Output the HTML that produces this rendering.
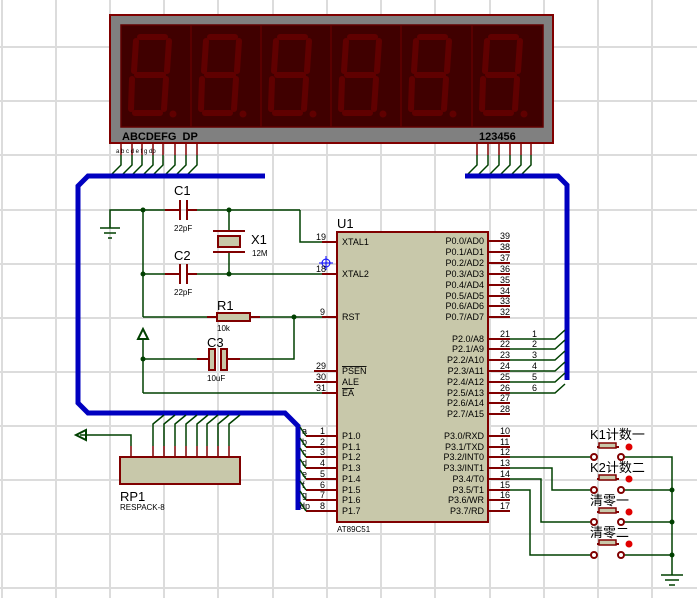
<!DOCTYPE html>
<html><head><meta charset="utf-8"><style>
body{margin:0;background:#fff}
svg{display:block}
text{font-family:"Liberation Sans","Noto Sans CJK SC",sans-serif}
</style></head><body>
<svg width="697" height="598" viewBox="0 0 697 598" xmlns="http://www.w3.org/2000/svg">
<g stroke="#dcdcdc" stroke-width="2">
<line x1="2" y1="0" x2="2" y2="598"/><line x1="56" y1="0" x2="56" y2="598"/><line x1="110" y1="0" x2="110" y2="598"/><line x1="164" y1="0" x2="164" y2="598"/><line x1="218" y1="0" x2="218" y2="598"/><line x1="273" y1="0" x2="273" y2="598"/><line x1="327" y1="0" x2="327" y2="598"/><line x1="381" y1="0" x2="381" y2="598"/><line x1="435" y1="0" x2="435" y2="598"/><line x1="490" y1="0" x2="490" y2="598"/><line x1="544" y1="0" x2="544" y2="598"/><line x1="598" y1="0" x2="598" y2="598"/><line x1="652" y1="0" x2="652" y2="598"/>
<line x1="0" y1="47" x2="697" y2="47"/><line x1="0" y1="101" x2="697" y2="101"/><line x1="0" y1="155" x2="697" y2="155"/><line x1="0" y1="210" x2="697" y2="210"/><line x1="0" y1="264" x2="697" y2="264"/><line x1="0" y1="318" x2="697" y2="318"/><line x1="0" y1="372" x2="697" y2="372"/><line x1="0" y1="426" x2="697" y2="426"/><line x1="0" y1="480" x2="697" y2="480"/><line x1="0" y1="534" x2="697" y2="534"/><line x1="0" y1="588" x2="697" y2="588"/>
</g>
<!-- display -->
<rect x="110" y="15" width="443" height="128" fill="#808080" stroke="#800000" stroke-width="2"/>
<rect x="121" y="25" width="422" height="102" fill="#400000" stroke="#600000" stroke-width="1.5"/>
<g stroke="#600000" stroke-width="1.5">
<line x1="191" y1="25" x2="191" y2="127"/><line x1="261" y1="25" x2="261" y2="127"/><line x1="331" y1="25" x2="331" y2="127"/><line x1="401" y1="25" x2="401" y2="127"/><line x1="472" y1="25" x2="472" y2="127"/>
</g>
<defs><g id="dg" stroke="#600000" stroke-width="6" stroke-linecap="round" fill="none">
<line x1="19" y1="12" x2="44" y2="12"/><line x1="48" y1="16" x2="46" y2="46"/><line x1="45" y1="54" x2="43" y2="84"/><line x1="14" y1="88" x2="39" y2="88"/><line x1="11" y1="54" x2="10" y2="84"/><line x1="15" y1="16" x2="13" y2="46"/><line x1="16" y1="50" x2="42" y2="50"/>
<circle cx="52" cy="89" r="3.5" fill="#600000" stroke="none"/></g></defs>
<use href="#dg" x="121" y="25"/><use href="#dg" x="191" y="25"/><use href="#dg" x="261" y="25"/><use href="#dg" x="331" y="25"/><use href="#dg" x="401" y="25"/><use href="#dg" x="472" y="25"/>
<text x="122" y="140" font-size="11" font-weight="bold" fill="#000" xml:space="preserve">ABCDEFG  DP</text>
<text x="479" y="140" font-size="11" font-weight="bold" fill="#000">123456</text>
<g stroke="#800000" stroke-width="1.5">
<line x1="121" y1="143" x2="121" y2="155"/><line x1="132" y1="143" x2="132" y2="155"/><line x1="142" y1="143" x2="142" y2="155"/><line x1="153" y1="143" x2="153" y2="155"/><line x1="163" y1="143" x2="163" y2="155"/><line x1="175" y1="143" x2="175" y2="155"/><line x1="186" y1="143" x2="186" y2="155"/><line x1="197" y1="143" x2="197" y2="155"/>
<line x1="477" y1="143" x2="477" y2="155"/><line x1="488" y1="143" x2="488" y2="155"/><line x1="499" y1="143" x2="499" y2="155"/><line x1="510" y1="143" x2="510" y2="155"/><line x1="521" y1="143" x2="521" y2="155"/><line x1="531" y1="143" x2="531" y2="155"/>
</g>
<g stroke="#004000" stroke-width="1.5" fill="none">
<polyline points="121,155 121,165 110,176"/><polyline points="132,155 132,165 121,176"/><polyline points="142,155 142,165 131,176"/><polyline points="153,155 153,165 142,176"/><polyline points="163,155 163,165 152,176"/><polyline points="175,155 175,165 164,176"/><polyline points="186,155 186,165 175,176"/><polyline points="197,155 197,165 186,176"/>
<polyline points="477,155 477,165 466,176"/><polyline points="488,155 488,165 477,176"/><polyline points="499,155 499,165 488,176"/><polyline points="510,155 510,165 499,176"/><polyline points="521,155 521,165 510,176"/><polyline points="531,155 531,165 520,176"/>
</g>
<g font-size="6" fill="#000">
<text x="116" y="153">a b c d e f g dp</text>
</g>
<!-- buses -->
<g stroke="#0000c0" stroke-width="5" fill="none">
<polyline points="265,176 88,176 78,186 78,403 88,413 285,413 298,426 298,510"/>
<polyline points="465,176 558,176 567,185 567,380"/>
</g>
<!-- crystal area wires -->
<g stroke="#004000" stroke-width="1.5" fill="none">
<polyline points="110,228 110,210 173,210"/><line x1="189" y1="210" x2="300" y2="210"/>
<polyline points="300,210 300,242 322,242"/>
<line x1="143" y1="210" x2="143" y2="317"/>
<line x1="143" y1="274" x2="173" y2="274"/><line x1="189" y1="274" x2="322" y2="274"/>
<line x1="229" y1="210" x2="229" y2="231"/><line x1="229" y1="252" x2="229" y2="274"/>
<line x1="143" y1="317" x2="217" y2="317"/><line x1="250" y1="317" x2="322" y2="317"/>
<polyline points="294,317 294,359 227,359"/><line x1="143" y1="359" x2="207" y2="359"/>
<line x1="143" y1="340" x2="143" y2="393"/>
<line x1="143" y1="393" x2="322" y2="393"/>
<line x1="100" y1="228" x2="120" y2="228"/><line x1="104" y1="233" x2="116" y2="233"/><line x1="108" y1="238" x2="112" y2="238"/>
</g>
<polygon points="143,329 138,339 148,339" fill="none" stroke="#004000" stroke-width="2"/>
<g fill="#004000"><circle cx="143" cy="210" r="2.5"/><circle cx="229" cy="210" r="2.5"/><circle cx="143" cy="274" r="2.5"/><circle cx="229" cy="274" r="2.5"/><circle cx="294" cy="317" r="2.5"/><circle cx="143" cy="359" r="2.5"/></g>
<g stroke="#800000" stroke-width="2">
<line x1="165" y1="210" x2="180" y2="210"/><line x1="187" y1="210" x2="197" y2="210"/>
<line x1="180" y1="200" x2="180" y2="220"/><line x1="187" y1="200" x2="187" y2="220"/>
<line x1="165" y1="274" x2="180" y2="274"/><line x1="187" y1="274" x2="197" y2="274"/>
<line x1="180" y1="264" x2="180" y2="284"/><line x1="187" y1="264" x2="187" y2="284"/>
<line x1="213" y1="231" x2="245" y2="231"/><line x1="213" y1="252" x2="245" y2="252"/>
<line x1="207" y1="317" x2="217" y2="317"/><line x1="250" y1="317" x2="260" y2="317"/>
<line x1="197" y1="359" x2="209" y2="359"/><line x1="224" y1="359" x2="240" y2="359"/>
</g>
<rect x="218" y="236" width="22" height="11" fill="#c8c8a8" stroke="#800000" stroke-width="2"/>
<rect x="217" y="313" width="33" height="8" fill="#c8c8a8" stroke="#800000" stroke-width="2"/>
<rect x="209" y="349" width="6" height="21" fill="#c8c8a8" stroke="#800000" stroke-width="2"/>
<rect x="221" y="349" width="6" height="21" fill="#c8c8a8" stroke="#800000" stroke-width="2"/>
<g fill="#000">
<text x="174" y="195" font-size="13">C1</text><text x="174" y="231" font-size="8">22pF</text>
<text x="174" y="260" font-size="13">C2</text><text x="174" y="295" font-size="8">22pF</text>
<text x="251" y="244" font-size="13">X1</text><text x="252" y="256" font-size="8">12M</text>
<text x="217" y="310" font-size="13">R1</text><text x="217" y="331" font-size="8">10k</text>
<text x="207" y="347" font-size="13">C3</text><text x="207" y="381" font-size="8">10uF</text>
</g>
<!-- crosshair -->
<g stroke="#0000ff" stroke-width="1" fill="none"><circle cx="326" cy="263" r="4"/><line x1="319" y1="263" x2="333" y2="263"/><line x1="326" y1="256" x2="326" y2="270"/></g>
<!-- U1 -->
<text x="337" y="228" font-size="13" fill="#000">U1</text>
<rect x="337" y="232" width="151" height="290" fill="#c8c8aa" stroke="#800000" stroke-width="2"/>
<g stroke="#800000" stroke-width="2">
<line x1="322" y1="242" x2="337" y2="242"/><line x1="322" y1="274" x2="337" y2="274"/><line x1="322" y1="317" x2="337" y2="317"/><line x1="314" y1="371" x2="337" y2="371"/><line x1="314" y1="382" x2="337" y2="382"/><line x1="322" y1="393" x2="337" y2="393"/>
<line x1="306" y1="436" x2="337" y2="436"/><line x1="306" y1="447" x2="337" y2="447"/><line x1="306" y1="457" x2="337" y2="457"/><line x1="306" y1="468" x2="337" y2="468"/><line x1="306" y1="479" x2="337" y2="479"/><line x1="306" y1="490" x2="337" y2="490"/><line x1="306" y1="500" x2="337" y2="500"/><line x1="306" y1="511" x2="337" y2="511"/>
<line x1="488" y1="241" x2="510" y2="241"/><line x1="488" y1="252" x2="510" y2="252"/><line x1="488" y1="263" x2="510" y2="263"/><line x1="488" y1="274" x2="510" y2="274"/><line x1="488" y1="285" x2="510" y2="285"/><line x1="488" y1="296" x2="510" y2="296"/><line x1="488" y1="306" x2="510" y2="306"/><line x1="488" y1="317" x2="510" y2="317"/>
<line x1="488" y1="339" x2="510" y2="339"/><line x1="488" y1="349" x2="510" y2="349"/><line x1="488" y1="360" x2="510" y2="360"/><line x1="488" y1="371" x2="510" y2="371"/><line x1="488" y1="382" x2="510" y2="382"/><line x1="488" y1="393" x2="510" y2="393"/><line x1="488" y1="403" x2="510" y2="403"/><line x1="488" y1="414" x2="510" y2="414"/>
<line x1="488" y1="436" x2="510" y2="436"/><line x1="488" y1="447" x2="510" y2="447"/><line x1="488" y1="457" x2="510" y2="457"/><line x1="488" y1="468" x2="510" y2="468"/><line x1="488" y1="479" x2="510" y2="479"/><line x1="488" y1="490" x2="510" y2="490"/><line x1="488" y1="500" x2="510" y2="500"/><line x1="488" y1="511" x2="510" y2="511"/>
</g>
<g font-size="9" fill="#000">
<text x="342" y="245">XTAL1</text><text x="342" y="277">XTAL2</text><text x="342" y="320">RST</text>
<text x="342" y="374" text-decoration="overline">PSEN</text><text x="342" y="385">ALE</text><text x="342" y="396" text-decoration="overline">EA</text>
<text x="342" y="439">P1.0</text><text x="342" y="450">P1.1</text><text x="342" y="460">P1.2</text><text x="342" y="471">P1.3</text><text x="342" y="482">P1.4</text><text x="342" y="493">P1.5</text><text x="342" y="503">P1.6</text><text x="342" y="514">P1.7</text>
<text x="337" y="532" font-size="8">AT89C51</text>
</g>
<g font-size="9" fill="#000" text-anchor="end">
<text x="484" y="244">P0.0/AD0</text><text x="484" y="255">P0.1/AD1</text><text x="484" y="266">P0.2/AD2</text><text x="484" y="277">P0.3/AD3</text><text x="484" y="288">P0.4/AD4</text><text x="484" y="299">P0.5/AD5</text><text x="484" y="309">P0.6/AD6</text><text x="484" y="320">P0.7/AD7</text>
<text x="484" y="342">P2.0/A8</text><text x="484" y="352">P2.1/A9</text><text x="484" y="363">P2.2/A10</text><text x="484" y="374">P2.3/A11</text><text x="484" y="385">P2.4/A12</text><text x="484" y="396">P2.5/A13</text><text x="484" y="406">P2.6/A14</text><text x="484" y="417">P2.7/A15</text>
<text x="484" y="439">P3.0/RXD</text><text x="484" y="450">P3.1/TXD</text><text x="484" y="460">P3.2/INT0</text><text x="484" y="471">P3.3/INT1</text><text x="484" y="482">P3.4/T0</text><text x="484" y="493">P3.5/T1</text><text x="484" y="503">P3.6/WR</text><text x="484" y="514">P3.7/RD</text>
</g>
<g font-size="9" fill="#000">
<text x="316" y="240">19</text><text x="316" y="272">18</text><text x="320" y="315">9</text><text x="316" y="369">29</text><text x="316" y="380">30</text><text x="316" y="391">31</text>
<text x="320" y="434">1</text><text x="320" y="445">2</text><text x="320" y="455">3</text><text x="320" y="466">4</text><text x="320" y="477">5</text><text x="320" y="488">6</text><text x="320" y="498">7</text><text x="320" y="509">8</text>
<text x="500" y="239">39</text><text x="500" y="250">38</text><text x="500" y="261">37</text><text x="500" y="272">36</text><text x="500" y="283">35</text><text x="500" y="294">34</text><text x="500" y="304">33</text><text x="500" y="315">32</text>
<text x="500" y="337">21</text><text x="500" y="347">22</text><text x="500" y="358">23</text><text x="500" y="369">24</text><text x="500" y="380">25</text><text x="500" y="391">26</text><text x="500" y="401">27</text><text x="500" y="412">28</text>
<text x="500" y="434">10</text><text x="500" y="445">11</text><text x="500" y="455">12</text><text x="500" y="466">13</text><text x="500" y="477">14</text><text x="500" y="488">15</text><text x="500" y="498">16</text><text x="500" y="509">17</text>
<text x="532" y="337">1</text><text x="532" y="347">2</text><text x="532" y="358">3</text><text x="532" y="369">4</text><text x="532" y="380">5</text><text x="532" y="391">6</text>
<text x="302" y="434">a</text><text x="302" y="445">b</text><text x="302" y="455">c</text><text x="302" y="466">d</text><text x="302" y="477">e</text><text x="302" y="488">f</text><text x="302" y="498">g</text><text x="300" y="509">dp</text>
</g>
<g stroke="#004000" stroke-width="1.5" fill="none">
<polyline points="510,339 555,339 565,330"/><polyline points="510,349 555,349 565,340"/><polyline points="510,360 555,360 565,351"/><polyline points="510,371 555,371 565,362"/><polyline points="510,382 555,382 565,373"/><polyline points="510,393 555,393 565,384"/>
<polyline points="300,427 306,436"/><polyline points="300,438 306,447"/><polyline points="300,448 306,457"/><polyline points="300,459 306,468"/><polyline points="300,470 306,479"/><polyline points="300,481 306,490"/><polyline points="300,491 306,500"/><polyline points="300,502 306,511"/>
<polyline points="131,446 131,435 80,435"/>
<polyline points="153,446 153,424 164,415"/><polyline points="164,446 164,424 175,415"/><polyline points="175,446 175,424 186,415"/><polyline points="186,446 186,424 197,415"/><polyline points="197,446 197,424 208,415"/><polyline points="207,446 207,424 218,415"/><polyline points="218,446 218,424 229,415"/><polyline points="229,446 229,424 240,415"/>
<polyline points="510,457 591,457"/><polyline points="624,457 672,457 672,575"/>
<polyline points="510,468 552,468 552,490 591,490"/><line x1="624" y1="490" x2="672" y2="490"/>
<polyline points="510,479 541,479 541,522 591,522"/><line x1="624" y1="522" x2="672" y2="522"/>
<polyline points="510,490 530,490 530,555 591,555"/><line x1="624" y1="555" x2="672" y2="555"/>
<line x1="661" y1="575" x2="683" y2="575"/><line x1="665" y1="580" x2="679" y2="580"/><line x1="669" y1="585" x2="675" y2="585"/>
</g>
<polygon points="76,435 86,430 86,440" fill="none" stroke="#004000" stroke-width="2"/>
<g fill="#004000"><circle cx="672" cy="490" r="2.5"/><circle cx="672" cy="522" r="2.5"/><circle cx="672" cy="555" r="2.5"/></g>
<g stroke="#800000" stroke-width="1.5">
<line x1="131" y1="446" x2="131" y2="457"/><line x1="153" y1="446" x2="153" y2="457"/><line x1="164" y1="446" x2="164" y2="457"/><line x1="175" y1="446" x2="175" y2="457"/><line x1="186" y1="446" x2="186" y2="457"/><line x1="197" y1="446" x2="197" y2="457"/><line x1="207" y1="446" x2="207" y2="457"/><line x1="218" y1="446" x2="218" y2="457"/><line x1="229" y1="446" x2="229" y2="457"/>
</g>
<rect x="120" y="457" width="120" height="27" fill="#c8c8aa" stroke="#800000" stroke-width="2"/>
<text x="120" y="501" font-size="13" fill="#000">RP1</text>
<text x="120" y="510" font-size="8" fill="#000">RESPACK-8</text>
<g stroke="#800000" stroke-width="2" fill="#fff">
<circle cx="594" cy="457" r="3"/><circle cx="621" cy="457" r="3"/>
<circle cx="594" cy="490" r="3"/><circle cx="621" cy="490" r="3"/>
<circle cx="594" cy="522" r="3"/><circle cx="621" cy="522" r="3"/>
<circle cx="594" cy="555" r="3"/><circle cx="621" cy="555" r="3"/>
<line x1="597" y1="447" x2="619" y2="447"/><line x1="597" y1="479" x2="619" y2="479"/><line x1="597" y1="512" x2="619" y2="512"/><line x1="597" y1="544" x2="619" y2="544"/>
</g>
<g fill="#c8c8aa" stroke="#800000" stroke-width="1.5">
<rect x="599" y="443" width="17" height="5"/><rect x="599" y="475" width="17" height="5"/><rect x="599" y="508" width="17" height="5"/><rect x="599" y="540" width="17" height="5"/>
</g>
<g fill="#e00000"><circle cx="629" cy="447" r="3.5"/><circle cx="629" cy="479" r="3.5"/><circle cx="629" cy="512" r="3.5"/><circle cx="629" cy="544" r="3.5"/></g>
<g font-size="13" fill="#000">
<text x="590" y="439">K1计数一</text><text x="590" y="472">K2计数二</text><text x="590" y="505">清零一</text><text x="590" y="537">清零二</text>
</g>
</svg>
</body></html>
